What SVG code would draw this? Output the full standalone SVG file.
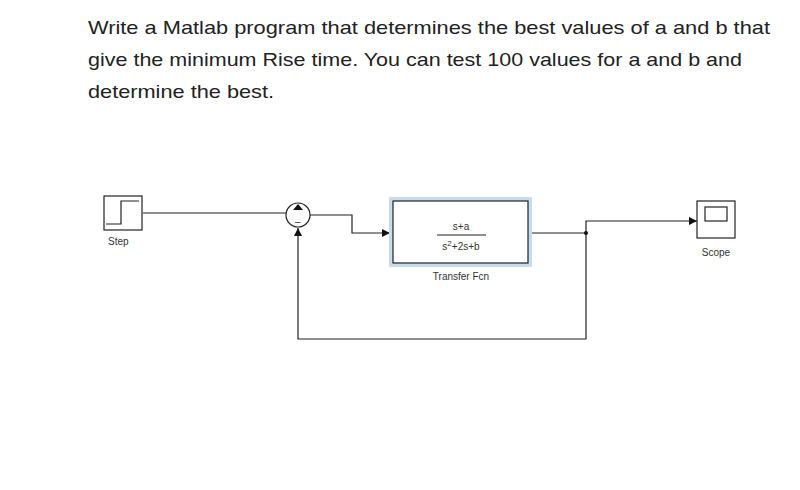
<svg xmlns="http://www.w3.org/2000/svg" width="800" height="490" viewBox="0 0 800 490">
<style>
.t{font-family:"Liberation Sans",Arial,sans-serif;font-size:19px;fill:#222}
.s{font-family:"Liberation Sans",Arial,sans-serif;font-size:10px;fill:#333}
.w{fill:none;stroke:#222;stroke-width:1.2}
.b{fill:#fff;stroke:#222;stroke-width:1.2}
</style>
<defs><marker id="a" markerWidth="8" markerHeight="8" refX="8" refY="4" orient="auto" markerUnits="userSpaceOnUse"><path d="M0,0L8,4L0,8z" fill="#111"/></marker></defs>
<rect width="800" height="490" fill="#fff"/>
<text class="t" x="88" y="34" textLength="682" lengthAdjust="spacingAndGlyphs">Write a Matlab program that determines the best values of a  and b that</text>
<text class="t" x="88" y="66" textLength="654" lengthAdjust="spacingAndGlyphs">give the minimum  Rise time. You can test 100 values for a and b  and</text>
<text class="t" x="88" y="98" textLength="186" lengthAdjust="spacingAndGlyphs">determine the best.</text>
<g id="connectors">
<path class="w" d="M143,213H286"/>
<path class="w" d="M310,215H352V233H390" marker-end="url(#a)"/>
<path class="w" d="M530,233H586"/>
<path class="w" d="M586,233V221H697" marker-end="url(#a)"/>
<path class="w" d="M586,233V339H298V228" marker-end="url(#a)"/>
<circle cx="586" cy="233" r="2" fill="#111"/>
</g>
<g id="step">
<rect class="b" x="104" y="196" width="38" height="34"/>
<path class="w" d="M106,224H121V201H139"/>
<text class="s" x="108" y="245">Step</text>
</g>
<g id="sum">
<circle class="b" cx="298" cy="215" r="12"/>
<path d="M293,210L298,204L303,210z" fill="#111"/>
<text class="s" x="295" y="225" font-size="11">–</text>
</g>
<g id="tf">
<rect x="389" y="197" width="143" height="70" fill="#c6dcf0"/>
<rect class="b" x="393" y="201" width="135" height="62"/>
<text class="s" x="461" y="230" text-anchor="middle" font-size="9">s+a</text>
<path class="w" d="M437,235H486" stroke-width="1"/>
<text class="s" x="461" y="250" text-anchor="middle" font-size="9">s<tspan dy="-4" font-size="8">2</tspan><tspan dy="4">+2s+b</tspan></text>
<text class="s" x="461" y="280" text-anchor="middle">Transfer Fcn</text>
</g>
<g id="scope">
<rect class="b" x="697" y="201" width="38" height="37"/>
<rect class="w" x="705" y="207" width="22" height="14"/>
<text class="s" x="716" y="256" text-anchor="middle">Scope</text>
</g>
</svg>
